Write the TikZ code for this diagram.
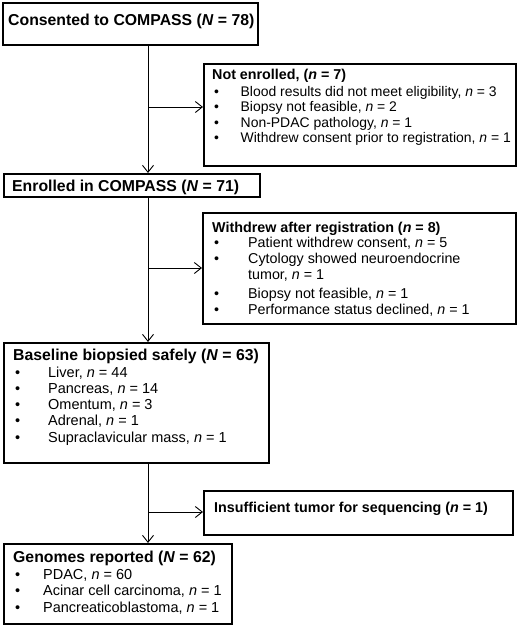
\documentclass[tikz,border=0pt]{standalone}
\usepackage{fontspec}
\setmainfont{Liberation Sans}
\usetikzlibrary{arrows.meta}
\newlength\bulT
\newcommand\hdr[1]{{\fontsize{15.8}{18}\selectfont\bfseries #1\par}}
\newcommand\hds[1]{{\fontsize{14.3}{16}\selectfont\bfseries #1\par}}
\newcommand\bitem[1]{\hangindent=\bulT\hangafter=1\noindent\makebox[\bulT][l]{\hspace*{2pt}\textbullet}#1\par}
\tikzset{
  box/.style={draw=black, line width=2.2pt, inner sep=0pt},
  txt/.style={inner sep=0pt, anchor=base west},
  arr/.style={line width=0.9pt, -{Straight Barb[length=7pt,width=11pt,line width=0.9pt]}}
}
\begin{document}
\begin{tikzpicture}[x=1pt,y=-1pt]
\useasboundingbox (0,0) rectangle (520,625);
% boxes
\node[box, minimum width=255pt, minimum height=42pt, anchor=north west] (b1) at (2,2) {};
\node[box, minimum width=312pt, minimum height=102pt, anchor=north west] (b2) at (203,63) {};
\node[box, minimum width=256pt, minimum height=23pt, anchor=north west] (b3) at (3,173) {};
\node[box, minimum width=313pt, minimum height=111pt, anchor=north west] (b4) at (202,212) {};
\node[box, minimum width=265pt, minimum height=120pt, anchor=north west] (b5) at (3,342) {};
\node[box, minimum width=309pt, minimum height=44pt, anchor=north west] (b6) at (203,490) {};
\node[box, minimum width=228pt, minimum height=80pt, anchor=north west] (b7) at (3,543) {};
% texts
\node[txt] (t1) at (8,25) {\parbox[t]{340pt}{\hdr{Consented to COMPASS (\textit{N} = 78)}}};
\node[txt] (t2) at (212,79) {\parbox[t]{340pt}{\setlength\bulT{28.5pt}\fontsize{13.95}{15.6}\selectfont
  \hds{Not enrolled, (\textit{n} = 7)}\vspace{1.4pt}
  \bitem{Blood results did not meet eligibility, \textit{n} = 3}
  \bitem{Biopsy not feasible, \textit{n} = 2}
  \bitem{Non-PDAC pathology, \textit{n} = 1}
  \bitem{Withdrew consent prior to registration, \textit{n} = 1}}};
\node[txt] (t3) at (12,191) {\parbox[t]{340pt}{\hdr{Enrolled in COMPASS (\textit{N} = 71)}}};
\node[txt] (t4) at (212,232) {\parbox[t]{340pt}{\setlength\bulT{36pt}\fontsize{14.3}{16}\selectfont
  \hds{Withdrew after registration (\textit{n} = 8)}\vspace{-1pt}
  \bitem{Patient withdrew consent, \textit{n} = 5}
  \bitem{Cytology showed neuroendocrine\\ tumor, \textit{n} = 1}\vspace{3pt}
  \bitem{Biopsy not feasible, \textit{n} = 1}
  \bitem{Performance status declined, \textit{n} = 1}}};
\node[txt] (t5) at (13,360) {\parbox[t]{340pt}{\setlength\bulT{35pt}\fontsize{14.5}{16.3}\selectfont
  \hdr{Baseline biopsied safely (\textit{N} = 63)}\vspace{0.7pt}
  \bitem{Liver, \textit{n} = 44}
  \bitem{Pancreas, \textit{n} = 14}
  \bitem{Omentum, \textit{n} = 3}
  \bitem{Adrenal, \textit{n} = 1}
  \bitem{Supraclavicular mass, \textit{n} = 1}}};
\node[txt] (t6) at (214,512) {\parbox[t]{340pt}{\hds{Insufficient tumor for sequencing (\textit{n} = 1)}}};
\node[txt] (t7) at (13,562) {\parbox[t]{340pt}{\setlength\bulT{30pt}\fontsize{14.5}{16.5}\selectfont
  \hdr{Genomes reported (\textit{N} = 62)}\vspace{0.5pt}
  \bitem{PDAC, \textit{n} = 60}
  \bitem{Acinar cell carcinoma, \textit{n} = 1}
  \bitem{Pancreaticoblastoma, \textit{n} = 1}}};
% connectors
\coordinate (j1) at (148,107);
\coordinate (j2) at (148,268);
\coordinate (j3) at (148,512);
\draw[arr] (b1.south -| j1) -- (b3.north -| j1);
\draw[arr] (j1) -- (b2.west |- j1);
\draw[arr] (b3.south -| j2) -- (b5.north -| j2);
\draw[arr] (j2) -- (b4.west |- j2);
\draw[arr] (b5.south -| j3) -- (b7.north -| j3);
\draw[arr] (j3) -- (b6.west |- j3);
\end{tikzpicture}
\end{document}
